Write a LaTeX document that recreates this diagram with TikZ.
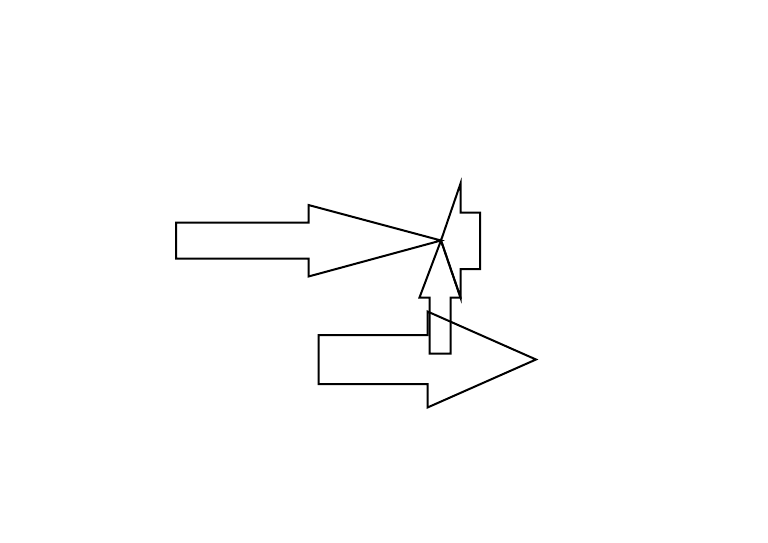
\documentclass[tikz,border=0pt]{standalone}
\begin{document}
\begin{tikzpicture}[x=1pt,y=-1pt,
  arrowshape/.style={draw=black,line width=2pt,line join=miter}]
\useasboundingbox (0,0) rectangle (768,543);
% big right arrow
\draw[arrowshape] (176,222.5) -- (308.5,222.5) -- (308.5,205) -- (441,240.5) -- (308.5,276.5) -- (308.5,258.5) -- (176,258.5) -- cycle;
% left-pointing arrow
\draw[arrowshape] (441,240.5) -- (460.5,183.5) -- (460.5,212.5) -- (480,212.5) -- (480,269) -- (460.5,269) -- (460.5,297.5) -- cycle;
% up arrow
\draw[arrowshape] (441,240.5) -- (460.5,297.5) -- (450.5,297.5) -- (450.5,353.5) -- (429.5,353.5) -- (429.5,297.5) -- (419.5,297.5) -- cycle;
% bottom right arrow
\draw[arrowshape] (318.5,335) -- (427.5,335) -- (427.5,311.5) -- (536,359.5) -- (427.5,407.5) -- (427.5,384) -- (318.5,384) -- cycle;
\end{tikzpicture}
\end{document}
